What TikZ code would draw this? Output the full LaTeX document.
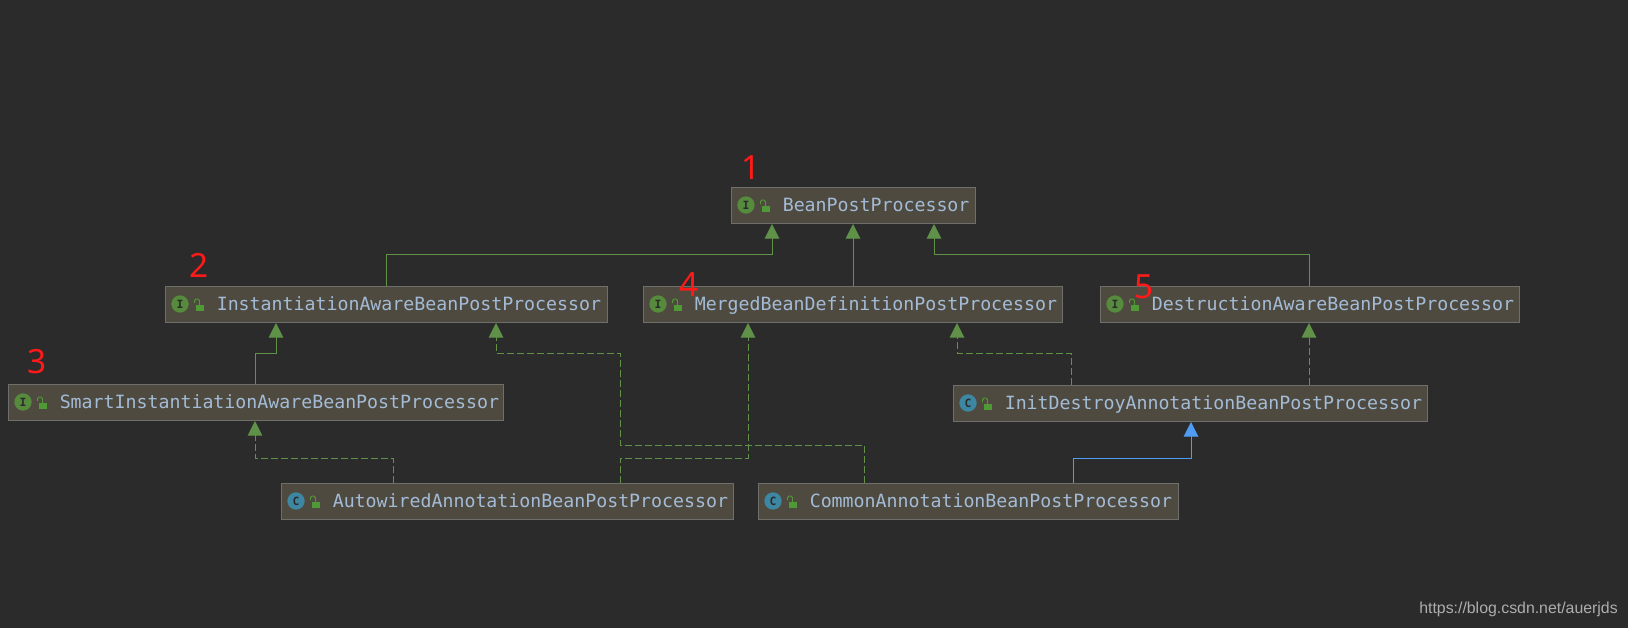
\documentclass[tikz,border=0pt]{standalone}
\usepackage{fontspec}
\setmainfont{Liberation Sans}
\setmonofont{DejaVu Sans Mono}
\newfontfamily\markfont{Noto Sans}
\usetikzlibrary{arrows.meta}
\definecolor{bg}{HTML}{2B2B2B}
\definecolor{boxfill}{HTML}{4E4A3F}
\definecolor{boxline}{HTML}{6E6E6A}
\definecolor{nametext}{HTML}{A3BBD6}
\definecolor{inherit}{HTML}{5F9148}
\definecolor{extendblue}{HTML}{4F9CF5}
\definecolor{lockgreen}{HTML}{4F9A36}
\definecolor{iconI}{HTML}{568A3C}
\definecolor{iconC}{HTML}{3E87A3}
\definecolor{marknum}{HTML}{FF1A1A}
\begin{document}
\begin{tikzpicture}[x=0.75pt,y=-0.75pt,
        classbox/.style={draw=boxline,fill=boxfill,line width=0.7pt,anchor=north west,minimum height=27pt,inner sep=0pt,outer sep=0pt},
        classname/.style={anchor=west,text=nametext,text height=10pt,text depth=3pt,font=\ttfamily\fontsize{13.68pt}{15pt}\selectfont,inner sep=0pt},
        iconmark/.style={circle,minimum size=13pt,inner sep=0pt,text=bg,font=\ttfamily\bfseries\fontsize{8.5pt}{9pt}\selectfont},
        num/.style={text=marknum,font=\markfont\fontsize{25pt}{28pt}\selectfont,inner sep=0pt},
        solidup/.style={draw=inherit,line width=0.75pt,-{Triangle[length=11pt,width=11pt]},shorten >=0.75pt},
        dashup/.style={solidup,dash pattern=on 5pt off 2.5pt},
        blueup/.style={solidup,draw=extendblue,-{Triangle[length=11pt,width=11pt,fill=extendblue]}}]
    \fill[bg] (0,0) rectangle (1628,628);
    \useasboundingbox (0,0) rectangle (1628,628);
    \foreach \n/\l/\t/\w/\k/\c in {
        bean/731/187/244/I/BeanPostProcessor,
        inst/165/286/442/I/InstantiationAwareBeanPostProcessor,
        merged/643/286/419/I/MergedBeanDefinitionPostProcessor,
        destr/1100/286/419/I/DestructionAwareBeanPostProcessor,
        smart/8/384/495/I/SmartInstantiationAwareBeanPostProcessor,
        initd/953/385/474/C/InitDestroyAnnotationBeanPostProcessor,
        autow/281/483/452/C/AutowiredAnnotationBeanPostProcessor,
        common/758/483/420/C/CommonAnnotationBeanPostProcessor} {
        \node[classbox,minimum width=\w*0.75pt] (\n) at(\l,\t) {};
        \node[iconmark,fill=icon\k] (\n-icon) at(\l+15,\t+18) {\k};
        \fill[lockgreen] (\l+31,\t+18.5) rectangle ++(8,6);
        \draw[lockgreen,line width=0.7pt,rounded corners=1.2pt] (\l+29.5,\t+17) -- ++(0,-4) -- ++(5,0) -- ++(0,6);
        \node[classname] (\n-name) at(\l+51.5,\t+19.5) {\c};
    }
    \draw[solidup] (386,0 |- inst.north) |- (772,254) -- (772,0 |- bean.south);
    \draw[solidup] (853,0 |- merged.north) -- (853,0 |- bean.south);
    \draw[solidup] (1309,0 |- destr.north) |- (934,254) -- (934,0 |- bean.south);
    \draw[solidup] (255,0 |- smart.north) |- (276,353) -- (276,0 |- inst.south);
    \draw[dashup] (393,0 |- autow.north) |- (255,458) -- (255,0 |- smart.south);
    \draw[dashup] (620,0 |- autow.north) |- (748,458) -- (748,0 |- merged.south);
    \draw[dashup] (864,0 |- common.north) |- (620,445) |- (496,353) -- (496,0 |- inst.south);
    \draw[dashup] (1071,0 |- initd.north) |- (957,353) -- (957,0 |- merged.south);
    \draw[dashup] (1309,0 |- initd.north) -- (1309,0 |- destr.south);
    \draw[blueup] (1073,0 |- common.north) |- (1191,458) -- (1191,0 |- initd.south);
    \foreach \x/\y [count=\i] in {751/168,199/265,37/362,689/285,1144/287} {
        \node[num] (num\i) at(\x,\y) {\i};
    }
    \node[anchor=east,text=white!68!black,font=\fontsize{11.9pt}{13pt}\selectfont,inner sep=0pt] (mark) at(1618,609) {https://blog.csdn.net/auerjds};
\end{tikzpicture}
\end{document}
